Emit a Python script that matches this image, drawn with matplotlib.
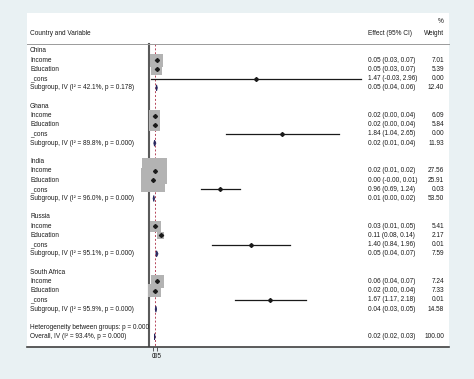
import numpy as np
import matplotlib; matplotlib.use('Agg')
import matplotlib.pyplot as plt
from matplotlib.patches import Rectangle, Polygon

plt.rcParams.update({"font.family": ["Liberation Sans", "DejaVu Sans"], "font.size": 4.7})

countries = ["China", "Ghana", "India", "Russia", "South Africa"]
variables = ["Income", "Education", "_cons"]
# per country: Income, Education, _cons
est = [[0.05, 0.05, 1.47], [0.02, 0.02, 1.84], [0.02, 0.00, 0.96], [0.03, 0.11, 1.40], [0.06, 0.02, 1.67]]
lo = [[0.03, 0.03, -0.03], [0.00, 0.00, 1.04], [0.01, -0.001, 0.69], [0.01, 0.08, 0.84], [0.04, 0.00, 1.17]]
hi = [[0.07, 0.07, 2.96], [0.04, 0.04, 2.65], [0.02, 0.01, 1.24], [0.05, 0.14, 1.96], [0.07, 0.04, 2.18]]
wt = [[7.01, 5.39, 0.00], [6.09, 5.84, 0.00], [27.56, 25.91, 0.03], [5.41, 2.17, 0.01], [7.24, 7.33, 0.01]]
# subgroup pooled
sub_est = [0.05, 0.02, 0.01, 0.05, 0.04]
sub_lo = [0.04, 0.01, 0.00, 0.04, 0.03]
sub_hi = [0.06, 0.04, 0.02, 0.07, 0.05]
sub_wt = [12.40, 11.93, 53.50, 7.59, 14.58]
sub_i2 = [42.1, 89.8, 96.0, 95.1, 95.9]
sub_p = [0.178, 0.000, 0.000, 0.000, 0.000]
ov_est, ov_lo, ov_hi, ov_wt, ov_i2, ov_p = 0.02, 0.02, 0.03, 100.00, 93.4, 0.000
het_p = 0.000

BG = "#e9f1f3"; BOX = "#b3b3b3"; NAVY = "#26265e"; INK = "#1a1a1a"
PX_X = 70.1   # px per effect unit
PX_Y = 9.22   # px per row
K = 4.85      # box side px per sqrt(weight)

fig = plt.figure(figsize=(4.74, 3.79), dpi=100, facecolor=BG)
ax = fig.add_axes([27 / 474, 31.7 / 379, 422 / 474, 334.3 / 379])
ax.set_facecolor("white")
ax.set_xlim((27 - 153.1) / PX_X, (449 - 153.1) / PX_X)
ax.set_ylim(32.14, -4.12)

XL = (30 - 153.1) / PX_X
XE = (368 - 153.1) / PX_X
XW = (444 - 153.1) / PX_X
xmin, xmax = ax.get_xlim()

# header
ax.text(XL, -1.95, "Country and Variable", va="center", ha="left", color=INK)
ax.text(XE, -1.95, "Effect (95% CI)", va="center", ha="left", color=INK)
ax.text(XW, -3.25, "%", va="center", ha="right", color=INK)
ax.text(XW, -1.95, "Weight", va="center", ha="right", color=INK)
ax.plot([xmin, xmax], [-0.76, -0.76], color="#9a9a9a", lw=0.7, clip_on=False)

# vertical reference lines
ax.plot([-0.058, -0.058], [-0.76, 32.14], color="#5a5a5a", lw=1.5, zorder=1)
ax.plot([ov_est, ov_est], [-0.76, 32.14], color="#b5455a", lw=0.7, dashes=(2, 2), zorder=1)

def fmt(e, l, h):
    return f"{e:.2f} ({l:.2f}, {h:.2f})"

def diamond(y, e, l, h):
    ax.add_patch(Polygon([[l, y], [e, y - 0.33], [h, y], [e, y + 0.33]], closed=True,
                         facecolor=NAVY, edgecolor=NAVY, lw=0.6, zorder=4))

for g, c in enumerate(countries):
    r0 = g * 6
    ax.text(XL, r0, c, va="center", ha="left", color=INK)
    for j, v in enumerate(variables):
        y = r0 + 1 + j
        ax.text(XL, y, v, va="center", ha="left", color=INK)
        s = K * np.sqrt(wt[g][j])
        w_d, h_d = s / PX_X, s / PX_Y
        if s > 0:
            ax.add_patch(Rectangle((est[g][j] - w_d / 2, y - h_d / 2), w_d, h_d,
                                   facecolor=BOX, edgecolor="none", zorder=2))
        ax.plot([lo[g][j], hi[g][j]], [y, y], color=INK, lw=0.9, zorder=3)
        ax.plot(est[g][j], y, marker="D", ms=2.0, color=INK, zorder=4)
        ax.text(XE, y, fmt(est[g][j], lo[g][j], hi[g][j]), va="center", ha="left", color=INK)
        ax.text(XW, y, f"{wt[g][j]:.2f}", va="center", ha="right", color=INK)
    y = r0 + 4
    ax.text(XL, y, f"Subgroup, IV (I² = {sub_i2[g]:.1f}%, p = {sub_p[g]:.3f})", va="center", ha="left", color=INK)
    diamond(y, sub_est[g], sub_lo[g], sub_hi[g])
    ax.text(XE, y, fmt(sub_est[g], sub_lo[g], sub_hi[g]), va="center", ha="left", color=INK)
    ax.text(XW, y, f"{sub_wt[g]:.2f}", va="center", ha="right", color=INK)

ax.text(XL, 30, f"Heterogeneity between groups: p = {het_p:.3f}", va="center", ha="left", color=INK, zorder=5)
ax.text(XL, 31, f"Overall, IV (I² = {ov_i2:.1f}%, p = {ov_p:.3f})", va="center", ha="left", color=INK)
diamond(31, ov_est, ov_lo, ov_hi)
ax.text(XE, 31, fmt(ov_est, ov_lo, ov_hi), va="center", ha="left", color=INK)
ax.text(XW, 31, f"{ov_wt:.2f}", va="center", ha="right", color=INK)

for sp in ["top", "left", "right"]:
    ax.spines[sp].set_visible(False)
ax.spines["bottom"].set_color("#404040"); ax.spines["bottom"].set_linewidth(1.2)
ax.set_yticks([])
ax.set_xticks([0, 0.05]); ax.set_xticklabels(["0", ".05"])
ax.tick_params(axis="x", length=3, width=0.6, color="#404040", labelsize=4.7, pad=1, labelcolor=INK)

fig.savefig("out.png", dpi=100, facecolor=BG)
